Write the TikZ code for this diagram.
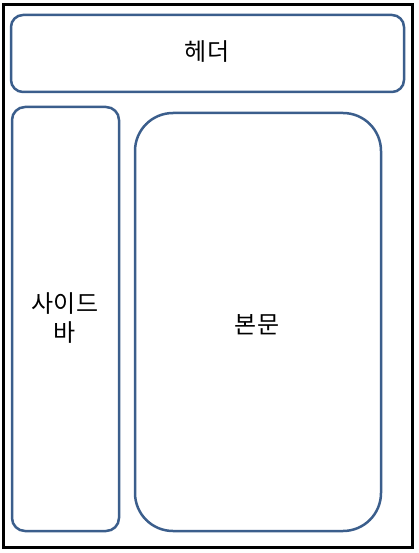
\documentclass[tikz,border=0pt]{standalone}
\usepackage{fontspec}
\setmainfont{Noto Sans CJK KR}
\definecolor{boxblue}{RGB}{59,94,140}

\begin{document}
\begin{tikzpicture}[x=1pt,y=-1pt,
	block/.style={draw=boxblue, line width=2.5pt, fill=white},
	label/.style={font=\fontsize{24}{29}\selectfont, align=center}]
	\useasboundingbox (0,0) rectangle (419,553);
	\draw[line width=3pt, black] (3,5) rectangle (412,547);
	\draw[block, rounded corners=12] (11,15) rectangle (404,92);
	\draw[block, rounded corners=13] (12,107) rectangle (119,531);
	\draw[block, rounded corners=38] (135,113) rectangle (381,531);
	\node[label] (header) at (207,52) {헤더};
	\node[label] (sidebar) at (65,318) {사이드\\바};
	\node[label] (content) at (257,325) {본문};
\end{tikzpicture}
\end{document}
